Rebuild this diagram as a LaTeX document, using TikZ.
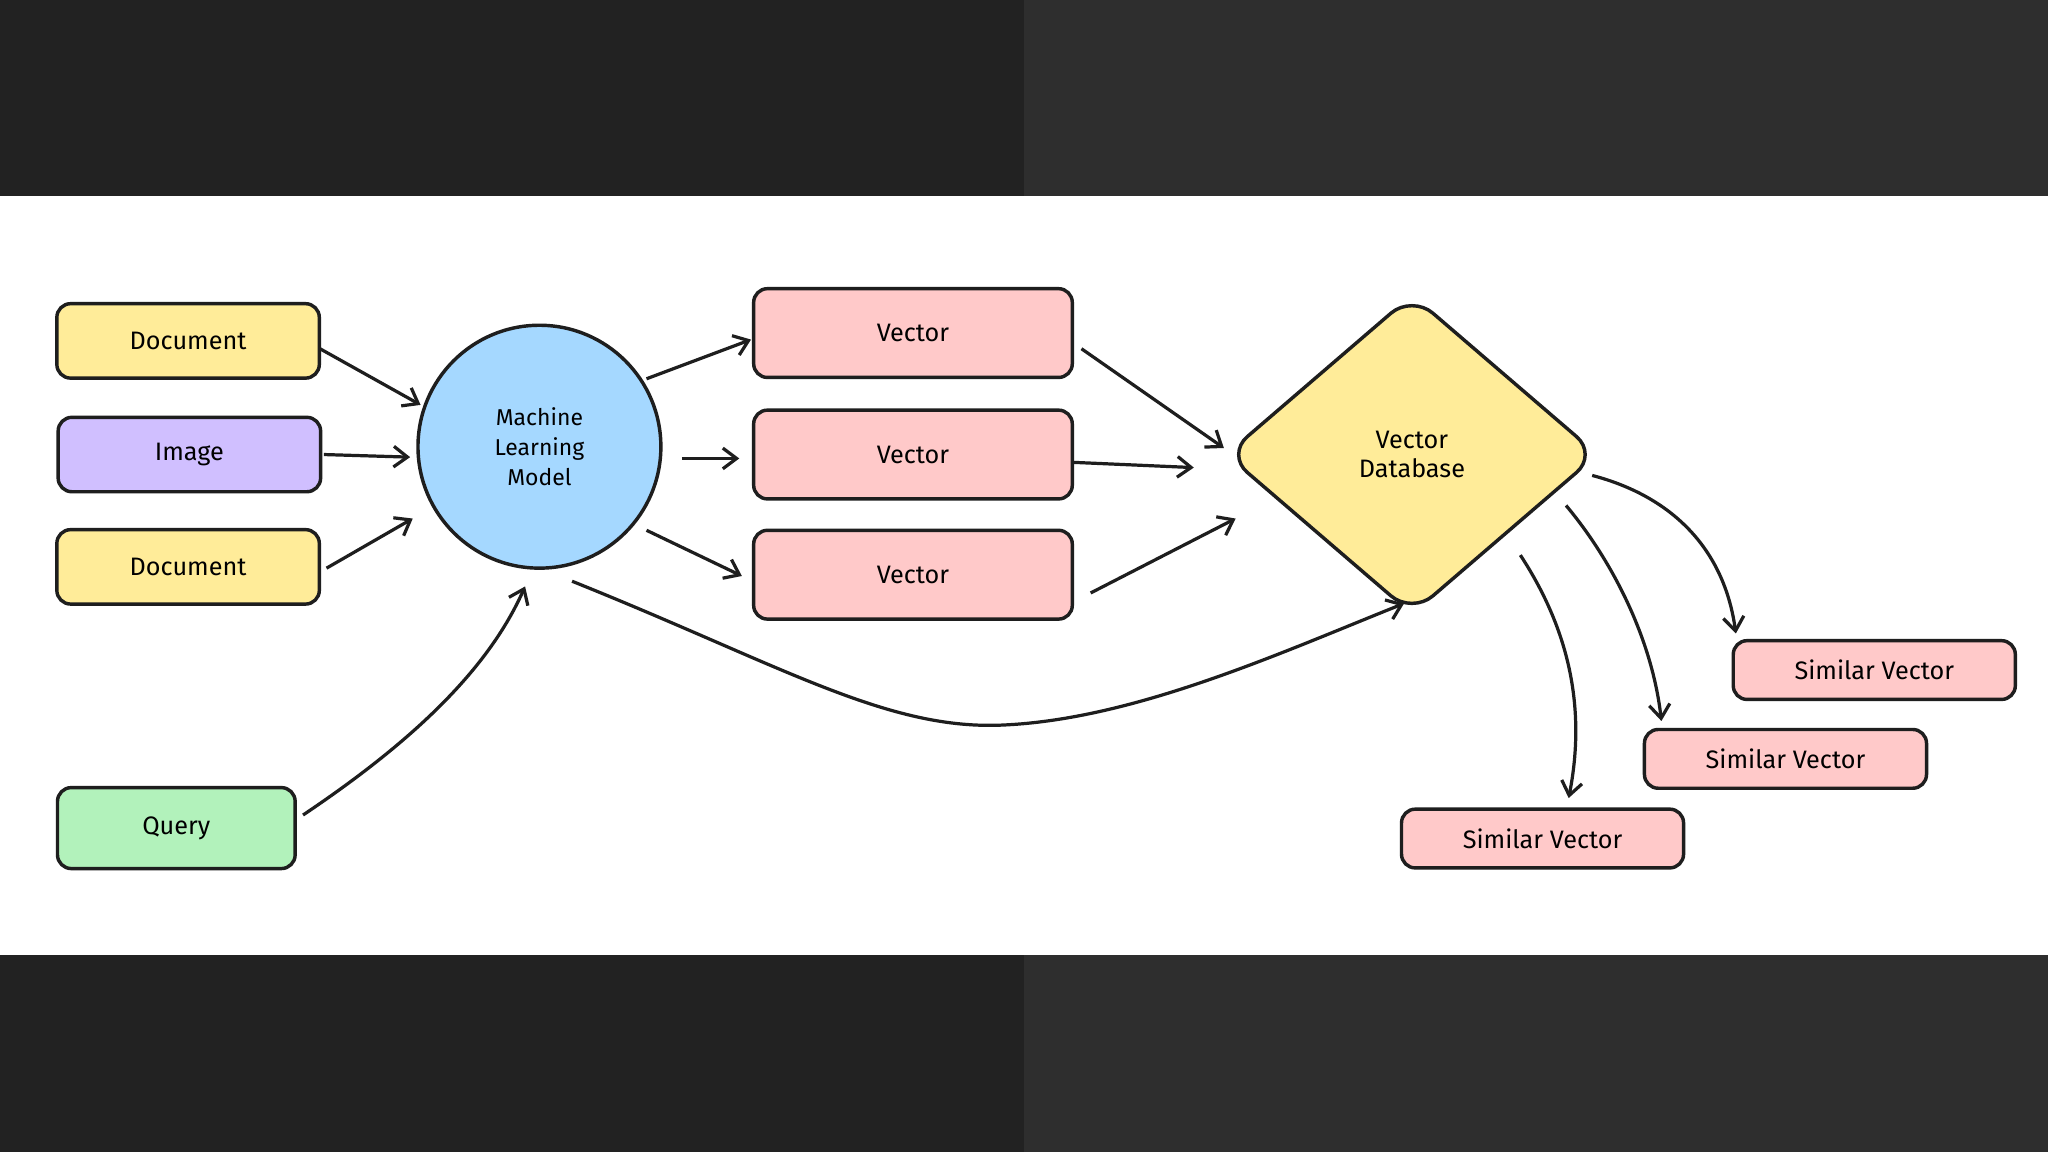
\documentclass[tikz,border=0pt]{standalone}
\usepackage{fontspec}
\setmainfont{Fira Sans}
\usetikzlibrary{shapes.geometric,arrows.meta}
\definecolor{ink}{HTML}{1E1E1E}
\definecolor{cyel}{HTML}{FFEC99}
\definecolor{cpur}{HTML}{D0BFFF}
\definecolor{cgrn}{HTML}{B2F2BB}
\definecolor{cblu}{HTML}{A5D8FF}
\definecolor{cpnk}{HTML}{FFC9C9}
\definecolor{bgA}{HTML}{222222}
\definecolor{bgB}{HTML}{2E2E2E}
\tikzset{
 box/.style={draw=ink,line width=1.5pt,rounded corners=6pt,font=\fontsize{11}{13}\selectfont,inner sep=0pt},
 arr/.style={draw=ink,line width=1.4pt,-{Straight Barb[length=6pt,width=9pt]}},
}
\begin{document}
\begin{tikzpicture}[x=0.02cm,y=-0.02cm]
\useasboundingbox (0,0) rectangle (1568,882);
\fill[bgA] (0,0) rectangle (784,150);
\fill[bgB] (784,0) rectangle (1568,150);
\fill[white] (0,150) rectangle (1568,731);
\fill[bgA] (0,731) rectangle (784,882);
\fill[bgB] (784,731) rectangle (1568,882);

\node[box,fill=cyel,minimum width=4.02cm,minimum height=1.14cm] (d1) at (144,261) {Document};
\node[box,fill=cpur,minimum width=4.02cm,minimum height=1.14cm] (im) at (145,348) {Image};
\node[box,fill=cyel,minimum width=4.02cm,minimum height=1.14cm] (d2) at (144,434) {Document};
\node[box,fill=cgrn,minimum width=3.64cm,minimum height=1.24cm] (q) at (135,634) {Query};
\node[draw=ink,line width=1.5pt,circle,fill=cblu,minimum size=3.72cm,align=center,font=\fontsize{10}{13}\selectfont] (ml) at (413,342) {Machine\\Learning\\Model};
\node[box,fill=cpnk,minimum width=4.88cm,minimum height=1.36cm] (v1) at (699,255) {Vector};
\node[box,fill=cpnk,minimum width=4.88cm,minimum height=1.36cm] (v2) at (699,348) {Vector};
\node[box,fill=cpnk,minimum width=4.88cm,minimum height=1.36cm] (v3) at (699,440) {Vector};
\draw[draw=ink,line width=1.5pt,fill=cyel,rounded corners=12pt] (1081,226) -- (1223,348) -- (1081,470) -- (939,348) -- cycle;
\node[align=center,font=\fontsize{11}{13}\selectfont] (db) at (1081,348) {Vector\\Database};
\node[box,fill=cpnk,minimum width=4.32cm,minimum height=0.9cm] (s1) at (1435,513) {Similar Vector};
\node[box,fill=cpnk,minimum width=4.32cm,minimum height=0.9cm] (s2) at (1367,581) {Similar Vector};
\node[box,fill=cpnk,minimum width=4.32cm,minimum height=0.9cm] (s3) at (1181,642) {Similar Vector};

\coordinate (a1) at (245,267); \coordinate (b1) at (322,310);
\coordinate (a2) at (248,348); \coordinate (b2) at (314,350);
\coordinate (a3) at (250,435); \coordinate (b3) at (316,397);
\coordinate (a4) at (232,624); \coordinate (b4) at (402,449);
\coordinate (a5) at (495,290); \coordinate (b5) at (575,260);
\coordinate (a6) at (522,351); \coordinate (b6) at (566,351);
\coordinate (a7) at (495,406); \coordinate (b7) at (568,441);
\coordinate (a8) at (438,445); \coordinate (b8) at (1075,462);
\coordinate (a9) at (828,267); \coordinate (b9) at (937,343);
\coordinate (a10) at (822,354); \coordinate (b10) at (914,358);
\coordinate (a11) at (835,454); \coordinate (b11) at (946,397);
\coordinate (a12) at (1219,364); \coordinate (b12) at (1329,485);
\coordinate (a13) at (1199,387); \coordinate (b13) at (1272,552);
\coordinate (a14) at (1164,425); \coordinate (b14) at (1201,611);

\draw[arr] (a1) -- (b1);
\draw[arr] (a2) -- (b2);
\draw[arr] (a3) -- (b3);
\draw[arr] (a4) .. controls (320,565) and (375,510) .. (b4);
\draw[arr] (a5) -- (b5);
\draw[arr] (a6) -- (b6);
\draw[arr] (a7) -- (b7);
\draw[arr] (a8) .. controls (600,510) and (680,560) .. (770,555) .. controls (870,550) and (980,500) .. (b8);
\draw[arr] (a9) -- (b9);
\draw[arr] (a10) -- (b10);
\draw[arr] (a11) -- (b11);
\draw[arr] (a12) .. controls (1280,380) and (1320,420) .. (b12);
\draw[arr] (a13) .. controls (1235,430) and (1265,490) .. (b13);
\draw[arr] (a14) .. controls (1200,480) and (1215,540) .. (b14);
\end{tikzpicture}
\end{document}
